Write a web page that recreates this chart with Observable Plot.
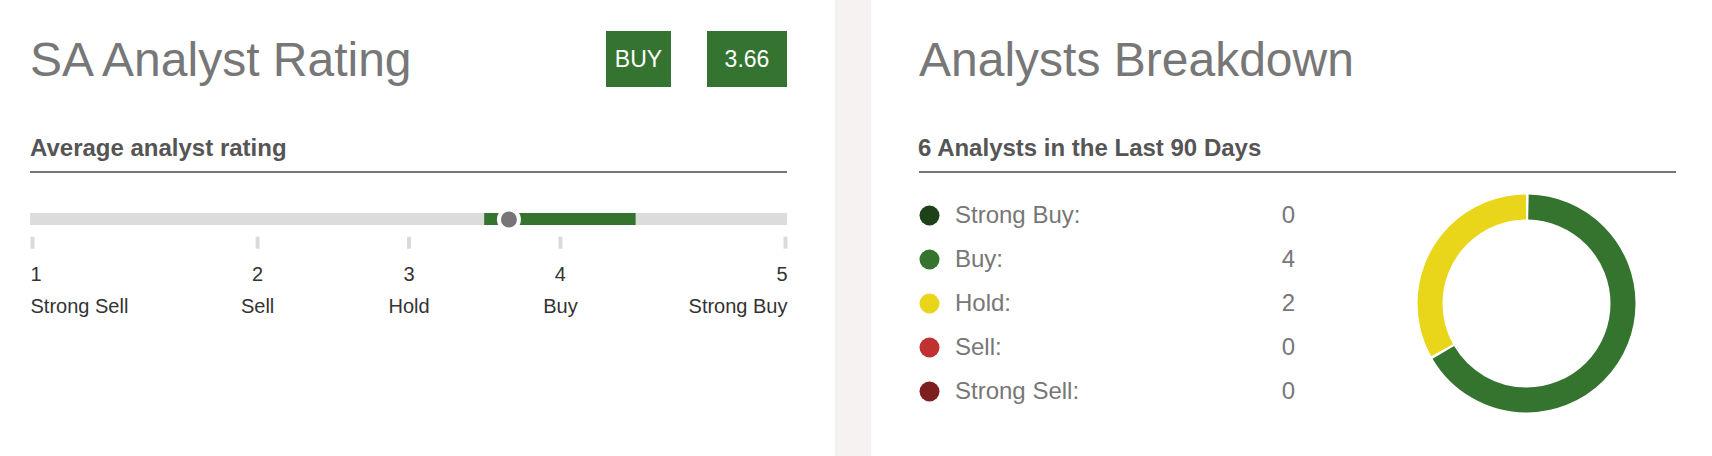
<!DOCTYPE html>
<html><head><meta charset="utf-8">
<script src="https://cdn.jsdelivr.net/npm/d3@7"></script>
<script src="https://cdn.jsdelivr.net/npm/@observablehq/plot@0.6"></script>
<style>
html,body{margin:0;padding:0;background:#fff;}
#root{position:relative;width:1712px;height:456px;overflow:hidden;font-family:"Liberation Sans",Arial,Helvetica,sans-serif;}
.abs{position:absolute;white-space:nowrap;}
.title{font-size:48px;line-height:48px;color:#777;}
.sub{font-size:24px;line-height:24px;font-weight:bold;color:#555;}
.rule{height:2px;background:#757575;}
.badge{background:#357430;color:#fff;font-size:23px;text-align:center;height:56px;line-height:56px;}
.divider{background:#f5f2f1;}
svg{overflow:visible;}
</style></head><body><div id="root"></div>
<script>
// ---- data ----
const ratingTicks = [1, 2, 3, 4, 5];
const ratingLabels = ["Strong Sell", "Sell", "Hold", "Buy", "Strong Buy"];
const ratingDomain = [0.5, 5.5];
const averageRating = 3.66;
const ratingText = "BUY";
const ratingBand = [3.5, 4.5];
const breakdownCategories = ["Strong Buy", "Buy", "Hold", "Sell", "Strong Sell"];
const breakdownCounts = [0, 4, 2, 0, 0];
const breakdownColors = ["#1d4219", "#35742f", "#e9d51a", "#c13131", "#7e1f1f"];
const analystCount = 6;
const periodDays = 90;

const root = document.getElementById("root");
function el(cls, css, text) {
  const d = document.createElement("div");
  d.className = "abs " + cls;
  Object.assign(d.style, css);
  if (text != null) d.textContent = text;
  root.appendChild(d);
  return d;
}
const FONT = "'Liberation Sans', Arial, Helvetica, sans-serif";
const baseStyle = {fontFamily: FONT, background: "transparent", overflow: "visible"};

// divider
el("divider", {left: "835px", top: "0px", width: "36px", height: "456px"});

// left header
el("title", {left: "30px", top: "35.5px"}, "SA Analyst Rating");
el("badge", {left: "606px", top: "31px", width: "65px"}, ratingText);
el("badge", {left: "707px", top: "31px", width: "80px"}, averageRating.toFixed(2));
el("sub", {left: "30px", top: "136.4px"}, "Average analyst rating");
el("rule", {left: "30px", top: "170.7px", width: "757px"});

// right header
el("title", {left: "919px", top: "35.5px"}, "Analysts Breakdown");
el("sub", {left: "918px", top: "136.4px"}, `${analystCount} Analysts in the Last ${periodDays} Days`);
el("rule", {left: "919px", top: "170.7px", width: "757px"});

// ---- rating scale ----
// end ticks sit on the edges of the track, middle ticks on the centre of their zone
const last = ratingTicks.length - 1;
const tickPos = i => i === 0 ? ratingDomain[0] : i === last ? ratingDomain[1] : ratingTicks[i];
const groups = [[[0], "start", 2], [[1, 2, 3], "middle", 0], [[last], "end", -2]];

const ratingMarks = [
  Plot.rect([{a: ratingDomain[0], b: ratingDomain[1]}], {x1: "a", x2: "b", fill: "#dcdcdc", insetTop: 13, insetBottom: 105}),
  Plot.rect([{a: ratingBand[0], b: ratingBand[1]}], {x1: "a", x2: "b", fill: "#35742f", insetTop: 13, insetBottom: 105}),
  Plot.dot([averageRating], {x: d => d, frameAnchor: "top", dy: 19, r: 10, fill: "#767676", stroke: "#fff", strokeWidth: 4})
];
for (const [idx, anchor, shift] of groups) {
  ratingMarks.push(
    Plot.ruleX(idx, {x: tickPos, dx: shift, stroke: "#dadada", strokeWidth: 4, insetTop: 36.7, insetBottom: 81.3}),
    Plot.text(idx, {x: tickPos, text: i => String(ratingTicks[i]), frameAnchor: "top", dy: 80, lineAnchor: "bottom", textAnchor: anchor, fontSize: 20, fill: "#333"}),
    Plot.text(idx, {x: tickPos, text: i => ratingLabels[i], frameAnchor: "top", dy: 112, lineAnchor: "bottom", textAnchor: anchor, fontSize: 20, fill: "#333"})
  );
}
const ratingPlot = Plot.plot({
  width: 835, height: 130,
  marginTop: 0, marginBottom: 0, marginLeft: 0, marginRight: 0,
  x: {type: "linear", domain: ratingDomain, range: [30, 787], axis: null},
  style: baseStyle,
  marks: ratingMarks
});
Object.assign(ratingPlot.style, {position: "absolute", left: "0px", top: "200px"});
root.appendChild(ratingPlot);

// ---- breakdown legend ----
const rows = breakdownCategories.map((c, i) => ({cat: c, count: breakdownCounts[i]}));
const colorScale = {type: "ordinal", domain: breakdownCategories, range: breakdownColors};

const legendPlot = Plot.plot({
  width: 480, height: 276,
  marginTop: 0, marginBottom: 0, marginLeft: 0, marginRight: 0,
  y: {type: "point", domain: breakdownCategories, range: [35, 211], padding: 0, axis: null},
  color: colorScale,
  style: baseStyle,
  marks: [
    Plot.dot(rows, {y: "cat", frameAnchor: "left", dx: 59, r: 10, fill: "cat"}),
    Plot.text(rows, {y: "cat", text: d => d.cat + ":", frameAnchor: "left", dx: 84.5, textAnchor: "start", fontSize: 24, fill: "#777"}),
    Plot.text(rows, {y: "cat", text: d => String(d.count), frameAnchor: "left", dx: 424.5, textAnchor: "end", fontSize: 24, fill: "#777"})
  ]
});
Object.assign(legendPlot.style, {position: "absolute", left: "870px", top: "180px"});
root.appendChild(legendPlot);

// ---- donut ----
const R = 96.5, C = 2 * Math.PI * R, gap = 2.5;
const arcs = d3.pie().sort(null).value(d => d.count)(rows).filter(a => a.endAngle > a.startAngle);
const donutMarks = arcs.map(a => {
  const start = ((a.startAngle / (2 * Math.PI) + 0.75) % 1) * C + gap / 2;
  const len = (a.endAngle - a.startAngle) / (2 * Math.PI) * C - gap;
  return Plot.dot([a.data], {frameAnchor: "middle", r: R, stroke: "cat", fill: "none", strokeWidth: 25,
    strokeDasharray: `${len} ${C - len}`, strokeDashoffset: -start});
});
const donutPlot = Plot.plot({
  width: 260, height: 250,
  marginTop: 0, marginBottom: 0, marginLeft: 0, marginRight: 0,
  color: colorScale,
  style: baseStyle,
  marks: donutMarks
});
Object.assign(donutPlot.style, {position: "absolute", left: "1396px", top: "178px"});
root.appendChild(donutPlot);
</script>
</body></html>
